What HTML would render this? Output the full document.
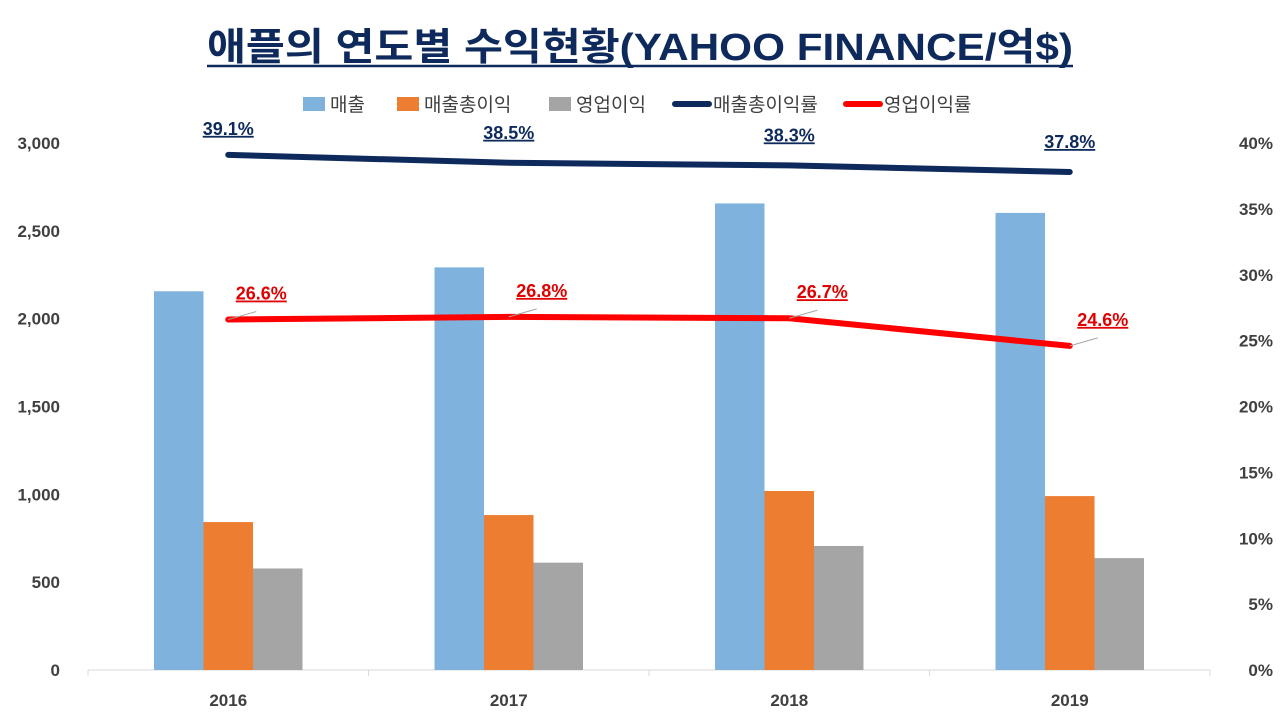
<!DOCTYPE html>
<html><head><meta charset="utf-8">
<style>
body{margin:0;background:#fff;}
svg text{font-family:"Liberation Sans","Noto Sans CJK KR",sans-serif;}
</style></head>
<body>
<svg id="chart" width="1280" height="720" viewBox="0 0 1280 720" xmlns="http://www.w3.org/2000/svg">
<text x="207" y="60" textLength="866" lengthAdjust="spacingAndGlyphs" font-size="38" font-weight="bold" fill="#0e2a5c">애플의 연도별 수익현황(YAHOO FINANCE/억$)</text>
<line x1="207" y1="66" x2="1073" y2="66" stroke="#0e2a5c" stroke-width="2.5"/>
<g id="legend"></g>
<g id="axes"></g>
<g id="bars"></g>
<g id="lines"></g>
</svg>
<script>
const categories=["2016","2017","2018","2019"];
const revenue=[2156,2292,2656,2602];
const grossProfit=[842,882,1019,990];
const operatingIncome=[578,611,706,637];
const grossMargin=[39.1,38.5,38.3,37.8];
const operatingMargin=[26.6,26.8,26.7,24.6];
const leftTicks=[0,500,1000,1500,2000,2500,3000];
const rightTicks=[0,5,10,15,20,25,30,35,40];

const NS="http://www.w3.org/2000/svg";
const plotTop=143,plotBottom=670,plotLeft=88,plotRight=1210;
const yL=v=>plotBottom-(v/3000)*(plotBottom-plotTop);
const yR=v=>plotBottom-(v/40)*(plotBottom-plotTop);
const xC=i=>plotLeft+(plotRight-plotLeft)/categories.length*(i+0.5);
function mk(tag,attrs,parent,text){const e=document.createElementNS(NS,tag);for(const k in attrs)e.setAttribute(k,attrs[k]);if(text!==undefined)e.textContent=text;parent.appendChild(e);return e;}
const axes=document.getElementById('axes'),bars=document.getElementById('bars'),lines=document.getElementById('lines'),legend=document.getElementById('legend');

let el=mk('line',{x1:plotLeft,x2:plotRight,y1:plotBottom,y2:plotBottom,stroke:'#d9d9d9','stroke-width':1},axes);


for(let i=0;i<=categories.length;i++){
 const x=plotLeft+(plotRight-plotLeft)/categories.length*i;
 el=mk('line',{x1:x,x2:x,y1:plotBottom,y2:plotBottom+6,stroke:'#d9d9d9'},axes);
 
 
}
leftTicks.forEach(v=>{
 el=mk('text',{x:60,y:yL(v)+6,'text-anchor':'end','font-size':17,'font-weight':'bold',fill:'#404040'},axes,v.toLocaleString('en-US'));
 
 
});
rightTicks.forEach(v=>{
 el=mk('text',{x:1273,y:yR(v)+6,'text-anchor':'end','font-size':17,'font-weight':'bold',fill:'#404040'},axes,v+'%');
 
 
});
categories.forEach((c,i)=>{
 el=mk('text',{x:xC(i),y:706,'text-anchor':'middle','font-size':17,'font-weight':'bold',fill:'#404040'},axes,c);
 
 
});
const bw=49.5;
const series=[[revenue,'#7fb3de','revenue-bar'],[grossProfit,'#ed7d31','gross-profit-bar'],[operatingIncome,'#a5a5a5','operating-income-bar']];
categories.forEach((c,i)=>{
 series.forEach((s,j)=>{
  const x=xC(i)-1.5*bw+j*bw;
  el=mk('rect',{x:x,y:yL(s[0][i]),width:bw,height:plotBottom-yL(s[0][i]),fill:s[1]},bars);
  
  
 });
});
function drawLine(data,color,name,labelFn){
 const pts=data.map((v,i)=>xC(i)+','+yR(v)).join(' ');
 el=mk('polyline',{points:pts,fill:'none',stroke:color,'stroke-width':6,'stroke-linejoin':'round','stroke-linecap':'round'},lines);
 
 
 data.forEach((v,i)=>labelFn(v,i));
}
drawLine(grossMargin,'#0e2a5c','gross-margin',(v,i)=>{
 const x=xC(i),y=i==0?yR(v)-20:yR(v)-24;
 el=mk('text',{x:x,y:y,'text-anchor':'middle','font-size':18,'font-weight':'bold',fill:'#0e2a5c','text-decoration':'underline'},lines,v.toFixed(1)+'%');
 
 
});
drawLine(operatingMargin,'#ff0000','operating-margin',(v,i)=>{
 const x=xC(i)+33,y=yR(v)-20;
 el=mk('line',{x1:xC(i),y1:yR(v),x2:xC(i)+28,y2:yR(v)-8,stroke:'#a6a6a6'},lines);
 
 
 el=mk('text',{x:x,y:y,'text-anchor':'middle','font-size':18,'font-weight':'bold',fill:'#e00000','text-decoration':'underline'},lines,v.toFixed(1)+'%');
 
 
});
const legendItems=[['매출','#7fb3de','rect',303],['매출총이익','#ed7d31','rect',397],['영업이익','#a5a5a5','rect',549],['매출총이익률','#0e2a5c','line',675],['영업이익률','#ff0000','line',846]];
legendItems.forEach(it=>{
 let m;
 if(it[2]=='rect'){m=mk('rect',{x:it[3],y:97,width:22,height:14,fill:it[1]},legend);}
 else{m=mk('line',{x1:it[3],x2:it[3]+34,y1:104,y2:104,stroke:it[1],'stroke-width':6,'stroke-linecap':'round'},legend);}
 
 
 const tx=it[3]+(it[2]=='rect'?27:38);
 el=mk('text',{x:tx,y:111,'font-size':19,fill:'#404040'},legend,it[0]);
 
 
});
</script>
</body></html>
